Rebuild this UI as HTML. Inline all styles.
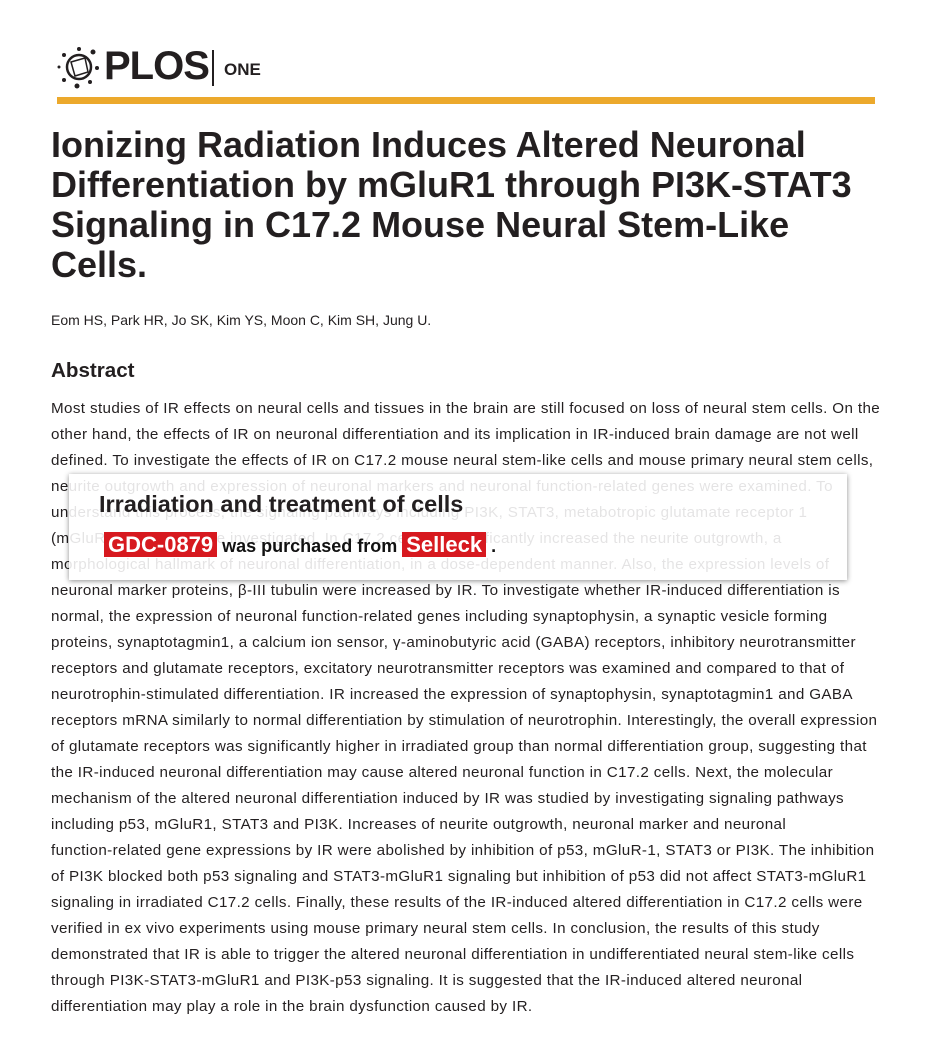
<!DOCTYPE html>
<html><head><meta charset="utf-8"><style>
body{margin:0;width:930px;height:1054px;background:#fff;position:relative;overflow:hidden;font-family:"Liberation Sans",sans-serif;color:#231f20}
.a{position:absolute;white-space:nowrap}
.t{font-weight:bold;font-size:36px;left:51px;line-height:40px;top:125px;color:#231f20}
.p{left:51px;font-size:15.2px;letter-spacing:0.37px;line-height:26px;top:396px}
.ov{position:absolute;left:69px;top:474px;width:778px;height:106px;background:rgba(255,255,255,0.88);box-shadow:0 1px 5px rgba(0,0,0,0.45)}
.red{background:#d7191f;color:#fff;padding:0 4px}
</style></head><body>
<svg class="a" style="left:55px;top:42px" width="50" height="50" viewBox="0 0 50 50">
<circle cx="24" cy="25" r="12" fill="none" stroke="#231f20" stroke-width="2.5"/>
<path d="M16 20 L30 16 L33 30 L20 34 Z" fill="none" stroke="#231f20" stroke-width="1.5"/>
<g fill="#231f20"><circle cx="24" cy="7" r="2"/><circle cx="38" cy="10" r="2.5"/><circle cx="9" cy="13" r="2"/><circle cx="4" cy="25" r="1.5"/><circle cx="42" cy="26" r="2"/><circle cx="9" cy="38" r="2"/><circle cx="22" cy="44" r="2.5"/><circle cx="35" cy="40" r="2"/></g>
</svg>
<div class="a" style="left:104px;top:44px;font-size:40px;font-weight:bold;letter-spacing:-1px">PLOS</div>
<div class="a" style="left:212px;top:50px;width:2px;height:36px;background:#231f20"></div>
<div class="a" style="left:224px;top:60px;font-size:17px;font-weight:bold">ONE</div>
<div class="a" style="left:57px;top:97px;width:818px;height:7px;background:#eca92c"></div>
<div class="a t">Ionizing Radiation Induces Altered Neuronal<br>Differentiation by mGluR1 through PI3K-STAT3<br>Signaling in C17.2 Mouse Neural Stem-Like<br>Cells.</div>
<div class="a" style="left:51px;top:312px;font-size:14px">Eom HS, Park HR, Jo SK, Kim YS, Moon C, Kim SH, Jung U.</div>
<div class="a" style="left:51px;top:359px;font-size:20.6px;font-weight:bold">Abstract</div>
<div class="a p">Most studies of IR effects on neural cells and tissues in the brain are still focused on loss of neural stem cells. On the<br>other hand, the effects of IR on neuronal differentiation and its implication in IR-induced brain damage are not well<br>defined. To investigate the effects of IR on C17.2 mouse neural stem-like cells and mouse primary neural stem cells,<br>neurite outgrowth and expression of neuronal markers and neuronal function-related genes were examined. To<br>understand this process, the signaling pathways including PI3K, STAT3, metabotropic glutamate receptor 1<br>(mGluR1), and p53 were investigated. In C17.2 cells, IR significantly increased the neurite outgrowth, a<br>morphological hallmark of neuronal differentiation, in a dose-dependent manner. Also, the expression levels of<br>neuronal marker proteins, β-III tubulin were increased by IR. To investigate whether IR-induced differentiation is<br>normal, the expression of neuronal function-related genes including synaptophysin, a synaptic vesicle forming<br>proteins, synaptotagmin1, a calcium ion sensor, γ-aminobutyric acid (GABA) receptors, inhibitory neurotransmitter<br>receptors and glutamate receptors, excitatory neurotransmitter receptors was examined and compared to that of<br>neurotrophin-stimulated differentiation. IR increased the expression of synaptophysin, synaptotagmin1 and GABA<br>receptors mRNA similarly to normal differentiation by stimulation of neurotrophin. Interestingly, the overall expression<br>of glutamate receptors was significantly higher in irradiated group than normal differentiation group, suggesting that<br>the IR-induced neuronal differentiation may cause altered neuronal function in C17.2 cells. Next, the molecular<br>mechanism of the altered neuronal differentiation induced by IR was studied by investigating signaling pathways<br>including p53, mGluR1, STAT3 and PI3K. Increases of neurite outgrowth, neuronal marker and neuronal<br>function-related gene expressions by IR were abolished by inhibition of p53, mGluR-1, STAT3 or PI3K. The inhibition<br>of PI3K blocked both p53 signaling and STAT3-mGluR1 signaling but inhibition of p53 did not affect STAT3-mGluR1<br>signaling in irradiated C17.2 cells. Finally, these results of the IR-induced altered differentiation in C17.2 cells were<br>verified in ex vivo experiments using mouse primary neural stem cells. In conclusion, the results of this study<br>demonstrated that IR is able to trigger the altered neuronal differentiation in undifferentiated neural stem-like cells<br>through PI3K-STAT3-mGluR1 and PI3K-p53 signaling. It is suggested that the IR-induced altered neuronal<br>differentiation may play a role in the brain dysfunction caused by IR.</div>
<div class="ov"></div>
<div class="a" style="left:99px;top:491px;font-size:23.5px;font-weight:bold;color:#231f20">Irradiation and treatment of cells</div>
<div class="a" style="left:104px;top:531px;font-size:18px;font-weight:bold;color:#111;line-height:28px"><span class="red" style="font-size:22px">GDC-0879</span> was purchased from <span class="red" style="font-size:22px">Selleck</span> .</div>
</body></html>
